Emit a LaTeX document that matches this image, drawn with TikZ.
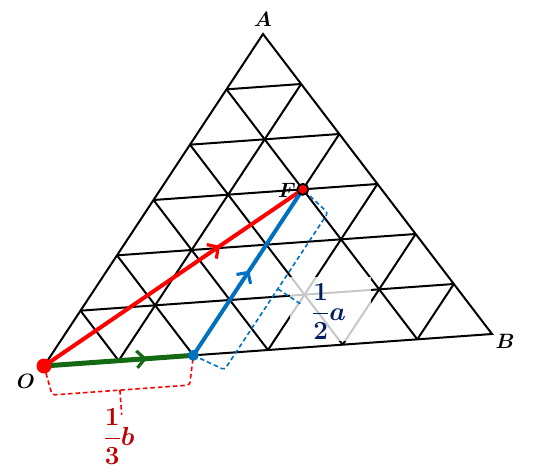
\documentclass[tikz,border=0pt]{standalone}
\usepackage{amsmath}
\usetikzlibrary{calc,arrows.meta,decorations.markings}
\definecolor{vred}{RGB}{255,0,0}
\definecolor{vblue}{RGB}{0,112,192}
\definecolor{vgreen}{RGB}{20,105,20}
\definecolor{lblred}{RGB}{192,0,0}
\definecolor{lblblue}{RGB}{0,32,96}
\tikzset{
  gridline/.style={line width=2pt, black},
  vec/.style={line width=4pt, line cap=round, postaction={decorate},
    decoration={markings, mark=at position #1 with {\arrow{Straight Barb[length=8pt,width=17pt,line width=3.2pt]}}}},
  bracket/.style={line width=1.6pt, dash pattern=on 4.5pt off 3pt, rounded corners=3pt},
  ptlabel/.style={font=\fontsize{20.74}{22}\selectfont\boldmath, inner sep=0pt},
  fraclabel/.style={font=\fontsize{24.88}{30}\selectfont\boldmath, inner sep=0pt, anchor=base, scale=1.05}
}
\begin{document}
\begin{tikzpicture}[x=1pt,y=-1pt]
\useasboundingbox (0,0) rectangle (535,473);
\coordinate (O) at (44,366);
\coordinate (A) at (263,34);
\coordinate (B) at (492,334);
\coordinate (P) at ($(O)!1/3!(B)$);
\coordinate (F) at ($(P)+0.5*(A)-0.5*(O)$);
% grid
\foreach \i in {1,...,5}{
  \draw[gridline] ($(O)!\i/6!(A)$) -- ($(B)!\i/6!(A)$);
  \draw[gridline] ($(O)!\i/6!(B)$) -- ($(A)!\i/6!(B)$);
  \draw[gridline] ($(O)!\i/6!(B)$) -- ($(O)!\i/6!(A)$);
}
\draw[gridline, line join=miter] (O) -- (A) -- (B) -- cycle;
% faded area behind label
\fill[white, opacity=0.78] (290,277) rectangle (371,341);
% brackets
\coordinate (c1) at (224.5,369.8);
\coordinate (c2) at (327.9,212.9);
\coordinate (cm) at (277.8,288.9);
\coordinate (ct) at (300.4,303.8);
\draw[bracket, vblue] (P) -- (c1) -- (c2) -- (F);
\draw[bracket, vblue] (cm) -- (ct);
\coordinate (r1) at (52.1,395.0);
\coordinate (r2) at (189.7,385.1);
\coordinate (rm) at (119.9,390.1);
\coordinate (rt) at (121.7,415.0);
\draw[bracket, vred] (O) -- (r1) -- (r2) -- (P);
\draw[bracket, vred] (rm) -- (rt);
% vectors
\draw[vec=0.68, vred] (O) -- (F);
\draw[vec=0.69, vgreen, line width=5pt] (O) -- (P);
\draw[vec=0.51, vblue] (P) -- (F);
% points
\fill[vred] (O) circle[radius=7.5pt];
\fill[vblue] (P) circle[radius=5.5pt];
\filldraw[fill=vred, draw=black, line width=1.8pt] (F) circle[radius=5.5pt];
% labels
\node[ptlabel] (lO) at (26,381) {$O$};
\node[ptlabel] (lA) at (263,19) {$A$};
\node[ptlabel] (lB) at (505,341) {$B$};
\node[ptlabel] (lF) at (287,190) {$F$};
\node[fraclabel, text=lblred] (lb) at (119,445) {$\dfrac{1}{3}b$};
\node[fraclabel, text=lblblue] (la) at (329,320) {$\dfrac{1}{2}a$};
\end{tikzpicture}
\end{document}
